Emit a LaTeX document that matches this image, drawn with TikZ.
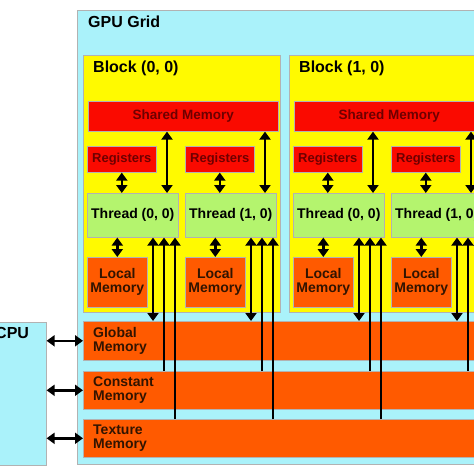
\documentclass[tikz,border=0pt]{standalone}
\usepackage{fontspec}
\setmainfont{Liberation Sans}
\usepackage{tikz}
\usetikzlibrary{arrows.meta, calc}

\definecolor{gridcyan}{RGB}{170,242,250}
\definecolor{blockyellow}{RGB}{255,250,0}
\definecolor{memred}{RGB}{250,10,0}
\definecolor{redtext}{RGB}{110,0,0}
\definecolor{memorange}{RGB}{255,90,0}
\definecolor{orangetext}{RGB}{50,20,0}
\definecolor{threadgreen}{RGB}{180,244,110}

\begin{document}
\begin{tikzpicture}[x=1pt, y=-1pt, >={Triangle[width=11pt, length=8pt]},
  every node/.style={font=\bfseries\fontsize{14}{14}\selectfont, inner sep=0pt},
  box/.style={draw=gray!60, line width=0.6pt, anchor=north west},
  title/.style={anchor=west, font=\bfseries\fontsize{16}{18}\selectfont},
  link/.style={<->, line width=2.6pt}]

\useasboundingbox (0,0) rectangle (474,474);

\node (grid)[box, fill=gridcyan, minimum width=430, minimum height=454] at (77,10) {};
\node[title] at (88,22) {GPU Grid};

\node (cpu)[box, fill=gridcyan, minimum width=66, minimum height=143] at (-20,322) {};
\node[title] at (-5,333) {CPU};

% device memories
\node (gm)[box, fill=memorange, minimum width=420, minimum height=39] at (83,321) {};
\node[anchor=west, align=left, text=orangetext] at ($(gm.west)+(10,0)$) {Global\\Memory};
\node (cm)[box, fill=memorange, minimum width=420, minimum height=38] at (83,371) {};
\node[anchor=west, align=left, text=orangetext] at ($(cm.west)+(10,0)$) {Constant\\Memory};
\node (tm)[box, fill=memorange, minimum width=420, minimum height=38] at (83,419) {};
\node[anchor=west, align=left, text=orangetext] at ($(tm.west)+(10,0)$) {Texture\\Memory};

\draw[link] (cpu.east |- gm.west) -- (gm.west);
\draw[link] (cpu.east |- cm.west) -- (cm.west);
\draw[link] (cpu.east |- tm.west) -- (tm.west);

\foreach \b in {0,1} {
  \pgfmathsetmacro\bx{83+206*\b}
  \node (blk\b)[box, fill=blockyellow, minimum width=197, minimum height=257] at (\bx,55) {};
  \node[title] at ($(blk\b.north west)+(10,13)$) {Block (\b, 0)};
  \node (sm\b)[box, fill=memred, text=redtext, font=\bfseries\fontsize{13.5}{14}\selectfont, minimum width=190, minimum height=30] at (\bx+5,101) {Shared Memory};

  \foreach \t in {0,1} {
    \pgfmathsetmacro\tx{\bx+4+98*\t}
    \node (reg\b\t)[box, fill=memred, text=redtext, font=\bfseries\fontsize{13}{14}\selectfont, minimum width=69, minimum height=26] at (\tx,146) {Registers};
    \node (thr\b\t)[box, fill=threadgreen, minimum width=91, minimum height=44] at (\tx,193) {Thread (\t, 0)};
    \node (loc\b\t)[box, fill=memorange, text=orangetext, minimum width=60, minimum height=50, align=center] at (\tx,257) {Local\\Memory};

    \draw[link] (reg\b\t.south) -- (reg\b\t.south |- thr\b\t.north);
    \draw[link] (loc\b\t.north) -- (loc\b\t.north |- thr\b\t.south);

    \coordinate (sa) at ($(thr\b\t.north west)+(80,0)$);
    \draw[link] (sa) -- (sa |- sm\b.south);

    \coordinate (g1) at ($(thr\b\t.south west)+(66,0)$);
    \coordinate (g2) at ($(thr\b\t.south west)+(77,0)$);
    \coordinate (g3) at ($(thr\b\t.south west)+(88,0)$);
    \draw[link] (g1) -- (g1 |- gm.north);
    \draw[->, line width=2.6pt] (g2 |- cm.north) -- (g2);
    \draw[->, line width=2.6pt] (g3 |- tm.north) -- (g3);
  }
}
\end{tikzpicture}
\end{document}
